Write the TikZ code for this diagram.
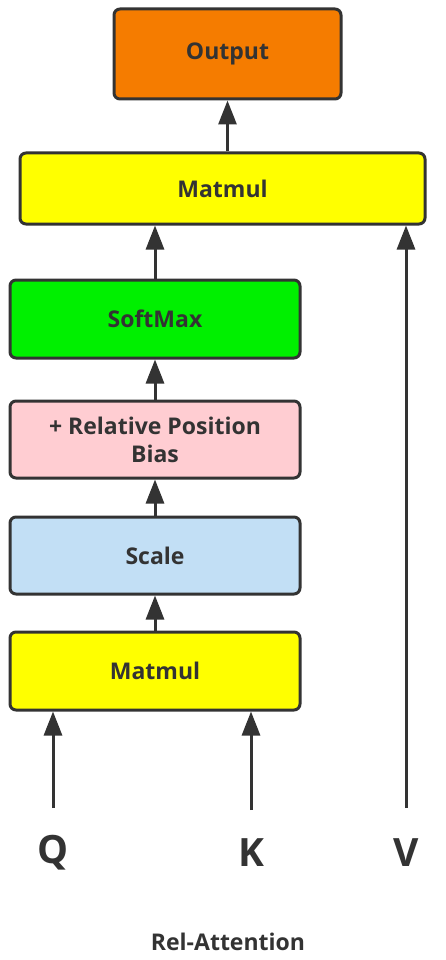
\documentclass[tikz,border=0pt]{standalone}
\usepackage{fontspec}
\setmainfont{Open Sans}
\usetikzlibrary{arrows.meta}
\definecolor{edge}{HTML}{333333}
\definecolor{cout}{HTML}{F57C00}
\definecolor{cyel}{HTML}{FFFF00}
\definecolor{cgrn}{HTML}{00F000}
\definecolor{cpink}{HTML}{FFCDD2}
\definecolor{cblue}{HTML}{C2DFF5}
\tikzset{
  box/.style={draw=edge, line width=3pt, rounded corners=6pt, inner sep=0pt,
    align=center, text=edge, font=\fontsize{23}{28}\selectfont\bfseries},
  arr/.style={draw=edge, line width=3pt, -{Triangle[length=24pt,width=18pt]}},
  lbl/.style={text=edge, font=\fontsize{39}{44}\selectfont\bfseries, inner sep=0pt},
  titletext/.style={text=edge, font=\fontsize{23}{28}\selectfont\bfseries, inner sep=0pt}
}
\begin{document}
\begin{tikzpicture}[x=1pt,y=-1pt]
\useasboundingbox (0,0) rectangle (446,960);
\node[box, fill=cout, minimum width=227pt, minimum height=90pt] (out) at (227.5,54) {Output};
\node[box, fill=cyel, minimum width=405pt, minimum height=71pt] (mm2) at (222.5,188.5) {Matmul};
\node[box, fill=cgrn, minimum width=290pt, minimum height=78pt] (sm) at (155,319) {SoftMax};
\node[box, fill=cpink, minimum width=290pt, minimum height=77pt] (rp) at (155,439.5) {+ Relative Position\\Bias};
\node[box, fill=cblue, minimum width=290pt, minimum height=77pt] (sc) at (155,555.5) {Scale};
\node[box, fill=cyel, minimum width=290pt, minimum height=78pt] (mm1) at (155,671) {Matmul};
\coordinate (q) at (53,808);
\coordinate (k) at (251,810);
\coordinate (v) at (406,808);
\draw[arr] (q) -- (q |- mm1.south);
\draw[arr] (k) -- (k |- mm1.south);
\draw[arr] (v) -- (v |- mm2.south);
\draw[arr] (mm1.north) -- (sc.south);
\draw[arr] (sc.north) -- (rp.south);
\draw[arr] (rp.north) -- (sm.south);
\draw[arr] (sm.north) -- (sm.north |- mm2.south);
\draw[arr] (mm2.north -| out.south) -- (out.south);
\node[lbl] (ql) at (53,853) {Q};
\node[lbl] (kl) at (251,853) {K};
\node[lbl] (vl) at (406,853) {V};
\node[titletext] (title) at (228,942) {Rel-Attention};
\end{tikzpicture}
\end{document}
